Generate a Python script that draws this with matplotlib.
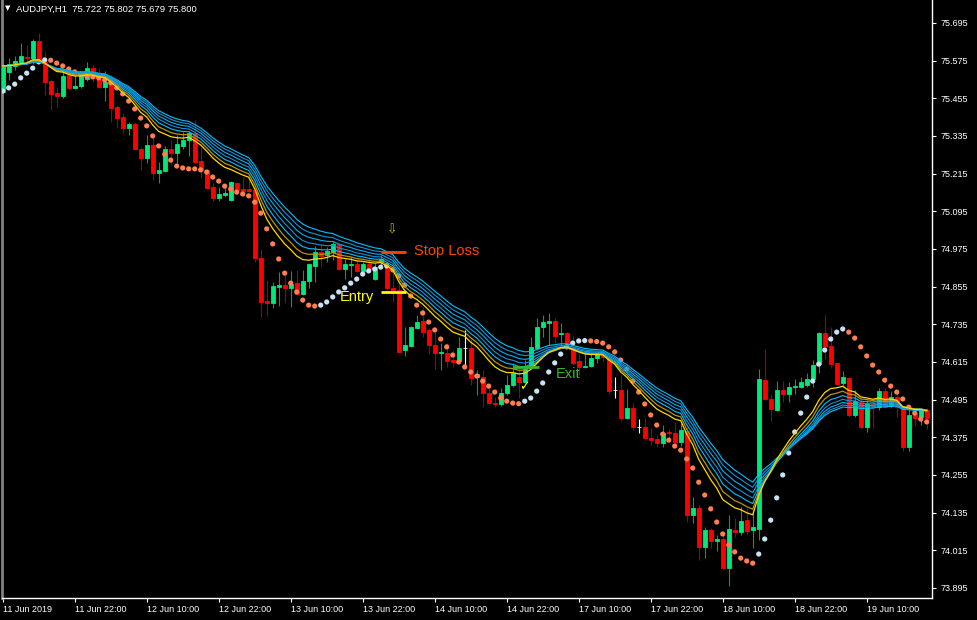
import numpy as np
import pandas as pd
import matplotlib
matplotlib.use("Agg")
import matplotlib.pyplot as plt

plt.rcParams['font.family'] = ['Liberation Sans', 'DejaVu Sans']

symbol = "AUDJPY,H1"
last_quote = "75.722 75.802 75.679 75.800"

time_labels = ["11 Jun 2019", "11 Jun 22:00", "12 Jun 10:00", "12 Jun 22:00",
               "13 Jun 10:00", "13 Jun 22:00", "14 Jun 10:00", "14 Jun 22:00",
               "17 Jun 10:00", "17 Jun 22:00", "18 Jun 10:00", "18 Jun 22:00",
               "19 Jun 10:00"]
label_step = 12  # one label every 12 H1 bars

price_ticks = [75.695, 75.575, 75.455, 75.335, 75.215, 75.095, 74.975, 74.855,
               74.735, 74.615, 74.495, 74.375, 74.255, 74.135, 74.015, 73.895]

opens = [
    75.475, 75.539, 75.558, 75.571, 75.587, 75.583, 75.638, 75.571, 75.510, 75.471,
    75.462, 75.529, 75.488, 75.494, 75.516, 75.551, 75.523, 75.491, 75.507, 75.427,
    75.395, 75.360, 75.373, 75.293, 75.265, 75.306, 75.217, 75.224, 75.293, 75.281,
    75.303, 75.322, 75.344, 75.255, 75.227, 75.172, 75.137, 75.147, 75.131, 75.185,
    75.166, 75.166, 75.163, 74.946, 74.809, 74.803, 74.854, 74.860, 74.851, 74.866,
    74.831, 74.873, 74.921, 74.965, 74.956, 74.965, 74.991, 74.911, 74.924, 74.927,
    74.905, 74.927, 74.879, 74.933, 74.917, 74.851, 74.844, 74.653, 74.666, 74.723,
    74.745, 74.717, 74.669, 74.643, 74.643, 74.621, 74.618, 74.659, 74.659, 74.567,
    74.567, 74.516, 74.484, 74.481, 74.516, 74.541, 74.567, 74.551, 74.599, 74.659,
    74.726, 74.739, 74.745, 74.704, 74.707, 74.659, 74.618, 74.599, 74.602, 74.627,
    74.640, 74.627, 74.526, 74.526, 74.436, 74.468, 74.408, 74.408, 74.373, 74.370,
    74.357, 74.392, 74.389, 74.360, 74.395, 74.127, 74.150, 74.025, 74.080, 74.044,
    74.051, 73.958, 74.080, 74.073, 74.111, 74.080, 74.083, 74.557, 74.497, 74.462,
    74.526, 74.513, 74.535, 74.535, 74.541, 74.561, 74.608, 74.707, 74.666, 74.612,
    74.548, 74.564, 74.446, 74.487, 74.408, 74.481, 74.471, 74.522, 74.475, 74.503,
    74.471, 74.344, 74.452, 74.440, 74.462]

highs = [
    75.583, 75.583, 75.590, 75.631, 75.625, 75.644, 75.663, 75.602, 75.513, 75.491,
    75.539, 75.539, 75.529, 75.542, 75.571, 75.561, 75.551, 75.542, 75.529, 75.433,
    75.408, 75.379, 75.379, 75.300, 75.338, 75.332, 75.252, 75.303, 75.322, 75.338,
    75.348, 75.351, 75.386, 75.300, 75.230, 75.185, 75.172, 75.179, 75.191, 75.188,
    75.204, 75.204, 75.169, 74.975, 74.876, 74.870, 74.902, 74.898, 74.905, 74.908,
    74.908, 74.930, 74.984, 74.994, 74.981, 75.000, 74.994, 74.943, 74.949, 74.940,
    74.933, 74.949, 74.930, 74.956, 74.937, 74.917, 74.866, 74.726, 74.730, 74.765,
    74.790, 74.723, 74.710, 74.675, 74.675, 74.653, 74.694, 74.717, 74.691, 74.589,
    74.589, 74.535, 74.503, 74.532, 74.573, 74.612, 74.589, 74.621, 74.694, 74.755,
    74.765, 74.771, 74.755, 74.739, 74.710, 74.698, 74.643, 74.643, 74.640, 74.643,
    74.656, 74.631, 74.567, 74.573, 74.529, 74.484, 74.433, 74.436, 74.404, 74.382,
    74.414, 74.401, 74.424, 74.420, 74.408, 74.185, 74.159, 74.089, 74.086, 74.063,
    74.070, 74.127, 74.118, 74.153, 74.150, 74.143, 74.592, 74.656, 74.513, 74.554,
    74.554, 74.551, 74.561, 74.567, 74.580, 74.621, 74.710, 74.765, 74.726, 74.612,
    74.586, 74.567, 74.526, 74.494, 74.494, 74.494, 74.532, 74.532, 74.522, 74.516,
    74.475, 74.471, 74.468, 74.468, 74.468]

lows = [
    75.465, 75.513, 75.545, 75.567, 75.571, 75.564, 75.564, 75.465, 75.418, 75.427,
    75.456, 75.481, 75.484, 75.488, 75.510, 75.507, 75.488, 75.446, 75.379, 75.360,
    75.344, 75.338, 75.290, 75.227, 75.249, 75.195, 75.185, 75.220, 75.242, 75.249,
    75.293, 75.271, 75.249, 75.201, 75.166, 75.128, 75.128, 75.140, 75.128, 75.156,
    75.156, 75.156, 74.933, 74.758, 74.761, 74.787, 74.793, 74.803, 74.790, 74.828,
    74.828, 74.851, 74.870, 74.917, 74.933, 74.940, 74.908, 74.879, 74.886, 74.902,
    74.898, 74.902, 74.876, 74.917, 74.844, 74.806, 74.643, 74.634, 74.663, 74.723,
    74.694, 74.640, 74.592, 74.589, 74.599, 74.599, 74.612, 74.605, 74.541, 74.510,
    74.471, 74.478, 74.471, 74.475, 74.510, 74.535, 74.500, 74.548, 74.596, 74.653,
    74.694, 74.669, 74.675, 74.669, 74.663, 74.605, 74.573, 74.596, 74.599, 74.612,
    74.615, 74.513, 74.500, 74.427, 74.433, 74.398, 74.389, 74.370, 74.350, 74.344,
    74.344, 74.360, 74.357, 74.347, 74.105, 74.102, 73.984, 73.990, 74.022, 74.013,
    73.955, 73.901, 74.057, 74.063, 74.063, 74.022, 74.048, 74.494, 74.427, 74.459,
    74.487, 74.487, 74.513, 74.532, 74.535, 74.535, 74.580, 74.624, 74.596, 74.545,
    74.535, 74.440, 74.440, 74.401, 74.392, 74.404, 74.462, 74.468, 74.471, 74.440,
    74.331, 74.331, 74.411, 74.414, 74.401]

closes = [
    75.558, 75.564, 75.574, 75.590, 75.582, 75.638, 75.577, 75.507, 75.468, 75.462,
    75.526, 75.488, 75.494, 75.529, 75.551, 75.520, 75.491, 75.507, 75.424, 75.392,
    75.360, 75.373, 75.293, 75.265, 75.306, 75.217, 75.227, 75.293, 75.281, 75.309,
    75.322, 75.344, 75.252, 75.227, 75.169, 75.137, 75.150, 75.153, 75.188, 75.163,
    75.160, 75.160, 74.946, 74.806, 74.803, 74.857, 74.860, 74.851, 74.863, 74.831,
    74.873, 74.927, 74.965, 74.952, 74.968, 74.991, 74.911, 74.927, 74.927, 74.905,
    74.927, 74.911, 74.917, 74.943, 74.851, 74.841, 74.647, 74.669, 74.726, 74.742,
    74.710, 74.669, 74.643, 74.647, 74.618, 74.615, 74.659, 74.659, 74.564, 74.577,
    74.516, 74.484, 74.481, 74.516, 74.541, 74.580, 74.551, 74.592, 74.663, 74.726,
    74.742, 74.745, 74.698, 74.707, 74.672, 74.612, 74.599, 74.602, 74.627, 74.640,
    74.631, 74.522, 74.526, 74.436, 74.468, 74.408, 74.408, 74.373, 74.366, 74.357,
    74.389, 74.389, 74.360, 74.398, 74.127, 74.150, 74.025, 74.080, 74.044, 74.051,
    73.958, 74.083, 74.073, 74.108, 74.076, 74.089, 74.560, 74.497, 74.465, 74.526,
    74.513, 74.535, 74.538, 74.551, 74.561, 74.605, 74.707, 74.666, 74.608, 74.545,
    74.567, 74.446, 74.491, 74.408, 74.481, 74.471, 74.522, 74.471, 74.503, 74.471,
    74.344, 74.446, 74.436, 74.462, 74.436]

# dotted trend average (light when rising, coral when falling)
trend_ma = [
    75.478, 75.488, 75.500, 75.520, 75.535, 75.551, 75.571, 75.577, 75.576, 75.567,
    75.558, 75.548, 75.539, 75.532, 75.526, 75.523, 75.520, 75.513, 75.504, 75.488,
    75.469, 75.446, 75.421, 75.392, 75.367, 75.335, 75.303, 75.277, 75.258, 75.239,
    75.233, 75.230, 75.230, 75.227, 75.220, 75.204, 75.191, 75.175, 75.166, 75.156,
    75.150, 75.144, 75.124, 75.089, 75.039, 74.991, 74.943, 74.898, 74.866, 74.838,
    74.812, 74.796, 74.793, 74.796, 74.806, 74.822, 74.838, 74.851, 74.866, 74.879,
    74.895, 74.905, 74.911, 74.917, 74.921, 74.908, 74.889, 74.860, 74.825, 74.796,
    74.771, 74.742, 74.717, 74.688, 74.663, 74.637, 74.615, 74.599, 74.583, 74.570,
    74.554, 74.538, 74.519, 74.500, 74.490, 74.484, 74.482, 74.490, 74.500, 74.522,
    74.548, 74.583, 74.612, 74.640, 74.663, 74.675, 74.682, 74.683, 74.682, 74.680,
    74.675, 74.663, 74.647, 74.621, 74.592, 74.554, 74.519, 74.481, 74.446, 74.414,
    74.385, 74.366, 74.347, 74.334, 74.306, 74.277, 74.232, 74.191, 74.147, 74.105,
    74.067, 74.032, 74.010, 73.990, 73.981, 73.974, 74.003, 74.051, 74.111, 74.182,
    74.255, 74.325, 74.392, 74.452, 74.503, 74.554, 74.608, 74.653, 74.688, 74.710,
    74.720, 74.710, 74.691, 74.663, 74.634, 74.605, 74.583, 74.557, 74.538, 74.519,
    74.497, 74.471, 74.452, 74.433, 74.424]

# MA ribbon periods
gold_spans = [13, 15]
blue_spans = [17, 19, 21, 23, 25]

# trade levels
stop_loss = 74.964
entry = 74.839
exit_price = 74.598


fig = plt.figure(figsize=(9.77, 6.2), dpi=100, facecolor="black")
ax = fig.add_axes([2 / 977, 22 / 620, 930 / 977, 598 / 620], facecolor="black")

x = np.arange(len(closes))
o, h, l, c = (np.array(v) for v in (opens, highs, lows, closes))
bull = c > o
bear = c < o

wick_col = np.where(bull, "#0a9a48", np.where(bear, "#a00000", "white"))
body_col = np.where(bull, "#00e878", np.where(bear, "#ff0000", "white"))
ax.vlines(x, l, h, colors=wick_col, linewidth=0.8, zorder=2)
ax.bar(x, np.abs(c - o), bottom=np.minimum(o, c), width=0.62, color=body_col,
       edgecolor=body_col, linewidth=0.6, zorder=3)

# dots coloured by slope
tm = np.array(trend_ma)
rising = [True]
for a, b in zip(tm[:-1], tm[1:]):
    rising.append(b > a if b != a else rising[-1])
dot_col = np.where(rising, "#c8e4f4", "#ff7f50")
ax.scatter(x, tm, s=14, c=dot_col, linewidths=0, zorder=4)

# ribbon
close_s = pd.Series(closes)
blue_cols = ["#00bfff", "#1b8fd6", "#00b0f0", "#1b8fd6", "#00bfff"]
for span, col in zip(blue_spans[::-1], blue_cols):
    ax.plot(x, close_s.ewm(span=span, adjust=False).mean(), color=col, lw=0.8, zorder=5)
for span, col in zip(gold_spans[::-1], ["#b8920a", "#ffd700"]):
    ax.plot(x, close_s.ewm(span=span, adjust=False).mean(), color=col, lw=0.9, zorder=5)

# trade annotations
ax.hlines(stop_loss, 63, 67.2, color="#ff4500", lw=2, zorder=6)
ax.text(68.5, 74.970, "Stop Loss", color="#ff4500", fontsize=10.5, va="center", ha="left")
ax.hlines(entry, 63, 67.2, color="#ffff00", lw=2, zorder=6)
ax.text(56.2, 74.822, "Entry", color="#ffff00", fontsize=10.5, va="center", ha="left")
ax.hlines(exit_price, 85.1, 89.3, color="#33b833", lw=2, zorder=6)
ax.text(92.2, 74.576, "Exit", color="#33b833", fontsize=10.5, va="center", ha="left")
ax.text(64.9, 75.035, "\u21e9", color="#c8b400", fontsize=9, ha="center", va="center",
        family="DejaVu Sans", zorder=7)
ax.text(86.9, 74.535, "\u2713", color="#ffff00", fontsize=9, ha="center", va="center",
        family="DejaVu Sans", zorder=7)

# axes
ax.set_xlim(-0.117, 154.88)
ax.set_ylim(73.863, 75.768)
ax.yaxis.tick_right()
ax.set_yticks(price_ticks)
ax.set_yticklabels([f"{v:.3f}" for v in price_ticks])
ax.set_xticks(np.arange(len(time_labels)) * label_step)
ax.set_xticklabels(time_labels)
for lbl in ax.get_xticklabels():
    lbl.set_ha("left")
ax.tick_params(axis="y", colors="white", length=3, width=0.8, pad=3, labelsize=6.5)
ax.tick_params(axis="x", colors="white", length=3, width=0.8, pad=2, labelsize=6.5)
ax.spines["top"].set_visible(False)
for s in ("right", "bottom"):
    ax.spines[s].set_color("white")
    ax.spines[s].set_linewidth(1)
ax.spines["left"].set_color("#808080")
ax.spines["left"].set_linewidth(2)

fig.text(5 / 977, 1 - 8 / 620, "\u25bc", color="white", fontsize=5, va="center",
         family="DejaVu Sans")
fig.text(16 / 977, 1 - 9 / 620, f"{symbol}  {last_quote}", color="white",
         fontsize=6.8, va="center")

fig.savefig("out.png", dpi=100, facecolor="black")
